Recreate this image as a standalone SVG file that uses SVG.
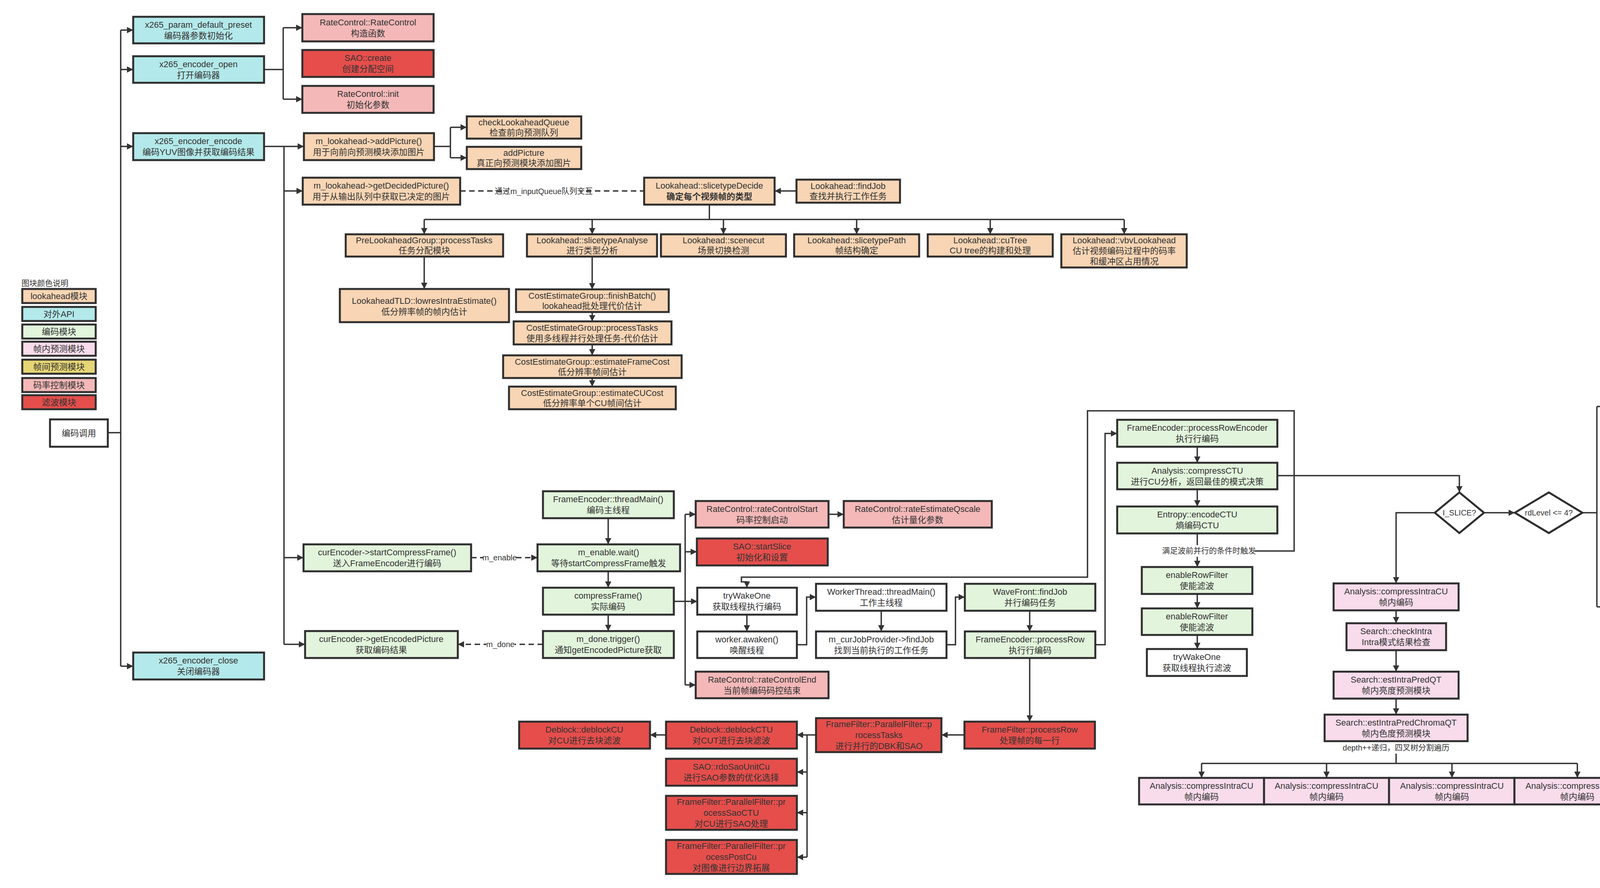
<svg xmlns="http://www.w3.org/2000/svg" width="6066" height="2274" viewBox="0 0 6066 2274">
<style>
text{font-family:"Liberation Sans","Noto Sans CJK SC",sans-serif;fill:#333;text-anchor:middle;font-size:22px}
.n rect,.n polygon{stroke:#2e2e2e;stroke-width:5}
.c rect{fill:#b3e9ea}.p rect{fill:#f8d5b4}.g rect{fill:#e2f4dc}.i rect{fill:#f8dcec}.y rect,.y polygon{fill:#e6d574}.r rect{fill:#f4b8b8}.f rect{fill:#e54e4b}.w rect,.w polygon{fill:#fff}
.k path{fill:none;stroke:#333;stroke-width:3.5}
.k .d{stroke-dasharray:14 9}
.lb{font-size:20px}
</style>
<defs>
<marker id="a" markerUnits="userSpaceOnUse" markerWidth="18" markerHeight="16" refX="16" refY="8" orient="auto"><path d="M0,0 L16,8 L0,16 z" fill="#333"/></marker>
</defs>
<rect width="6066" height="2274" fill="#fff"/>
<g id="legend">
<text x="55" y="733" style="text-anchor:start;font-size:20px">图块颜色说明</text>
<g class="n p"><rect x="57" y="740" width="188" height="36"/></g><text x="151" y="766">lookahead模块</text>
<g class="n c"><rect x="57" y="786" width="188" height="36"/></g><text x="151" y="812">对外API</text>
<g class="n g"><rect x="57" y="831" width="188" height="36"/></g><text x="151" y="857">编码模块</text>
<g class="n i"><rect x="57" y="875" width="188" height="36"/></g><text x="151" y="901">帧内预测模块</text>
<g class="n y"><rect x="57" y="921" width="188" height="36"/></g><text x="151" y="947">帧间预测模块</text>
<g class="n r"><rect x="57" y="968" width="188" height="36"/></g><text x="151" y="994">码率控制模块</text>
<g class="n f"><rect x="57" y="1012" width="188" height="36"/></g><text x="151" y="1038">滤波模块</text>
</g>
<g id="connectors" class="k">
<path d="M276,1108 H309 M309,77 V1706"/>
<path d="M309,77 H341" marker-end="url(#a)"/><path d="M309,178 H341" marker-end="url(#a)"/><path d="M309,375 H341" marker-end="url(#a)"/><path d="M309,1706 H341" marker-end="url(#a)"/>
<path d="M676,178 H725 M725,71 V254"/>
<path d="M725,71 H774" marker-end="url(#a)"/><path d="M725,254 H774" marker-end="url(#a)"/>
<path d="M676,375 H727 M727,375 V1650"/>
<path d="M727,375 H778" marker-end="url(#a)"/><path d="M727,489 H775" marker-end="url(#a)"/><path d="M727,1428 H777" marker-end="url(#a)"/><path d="M727,1650 H781" marker-end="url(#a)"/>
<path d="M1111,375 H1153 M1153,326 V404"/>
<path d="M1153,326 H1195" marker-end="url(#a)"/><path d="M1153,404 H1195" marker-end="url(#a)"/>
<path class="d" d="M1178,489 H1651"/>
<path d="M2039,489 H1983" marker-end="url(#a)"/>
<path d="M1816,524 V562 M1086,562 H2878"/>
<path d="M1086,562 V600" marker-end="url(#a)"/><path d="M1516,562 V600" marker-end="url(#a)"/><path d="M1852,562 V600" marker-end="url(#a)"/><path d="M2193,562 V600" marker-end="url(#a)"/><path d="M2535,562 V600" marker-end="url(#a)"/><path d="M2878,562 V600" marker-end="url(#a)"/>
<path d="M1086,657 V740" marker-end="url(#a)"/><path d="M1516,657 V741" marker-end="url(#a)"/><path d="M1516,799 V823" marker-end="url(#a)"/><path d="M1516,882 V910" marker-end="url(#a)"/><path d="M1516,968 V990" marker-end="url(#a)"/>
<path class="d" d="M1206,1428 H1376" marker-end="url(#a)"/>
<path d="M1557,1327 V1394" marker-end="url(#a)"/><path d="M1557,1463 V1505" marker-end="url(#a)"/><path d="M1557,1574 V1616" marker-end="url(#a)"/>
<path class="d" d="M1390,1650 H1172" marker-end="url(#a)"/>
<path d="M1725,1540 H1754 M1754,1317 V1754"/>
<path d="M1754,1317 H1781" marker-end="url(#a)"/><path d="M1754,1413 H1784" marker-end="url(#a)"/><path d="M1754,1540 H1785" marker-end="url(#a)"/><path d="M1754,1754 H1781" marker-end="url(#a)"/>
<path d="M2121,1317 H2160" marker-end="url(#a)"/>
<path d="M1912,1574 V1617" marker-end="url(#a)"/>
<path d="M2040,1651 H2065 V1529 H2089" marker-end="url(#a)"/>
<path d="M2256,1564 V1617" marker-end="url(#a)"/>
<path d="M2423,1651 H2446 V1529 H2470" marker-end="url(#a)"/>
<path d="M2636,1564 V1617" marker-end="url(#a)"/>
<path d="M2802,1651 H2829 V1110 H2860" marker-end="url(#a)"/>
<path d="M2636,1685 V1848" marker-end="url(#a)"/>
<path d="M2469,1882 H2410" marker-end="url(#a)"/>
<path d="M2089,1882 H2066 M2066,1882 V2195"/>
<path d="M2066,1882 H2040" marker-end="url(#a)"/><path d="M2066,1977 H2040" marker-end="url(#a)"/><path d="M2066,2081 H2040" marker-end="url(#a)"/><path d="M2066,2195 H2040" marker-end="url(#a)"/>
<path d="M1705,1882 H1664" marker-end="url(#a)"/>
<path d="M3065,1144 V1185" marker-end="url(#a)"/><path d="M3065,1253 V1297" marker-end="url(#a)"/><path d="M3065,1366 V1452" marker-end="url(#a)"/><path d="M3065,1521 V1558" marker-end="url(#a)"/><path d="M3065,1626 V1662" marker-end="url(#a)"/>
<path d="M3212,1411 H3313 V1052 H2784 V1478 H1898 V1490 H1912 V1505" marker-end="url(#a)"/>
<path d="M3270,1218 H3736 V1261" marker-end="url(#a)"/>
<path d="M3799,1313 H3878" marker-end="url(#a)"/>
<path d="M3673,1313 H3574 V1494" marker-end="url(#a)"/>
<path d="M3574,1563 V1596" marker-end="url(#a)"/><path d="M3574,1665 V1720" marker-end="url(#a)"/><path d="M3574,1789 V1830" marker-end="url(#a)"/>
<path d="M3574,1930 V1955 M3076,1955 H4038"/>
<path d="M3076,1955 V1992" marker-end="url(#a)"/><path d="M3396,1955 V1992" marker-end="url(#a)"/><path d="M3717,1955 V1992" marker-end="url(#a)"/><path d="M4038,1955 V1992" marker-end="url(#a)"/>
<path d="M4051,1313 H4088 M4088,1041 V1554"/>
<path d="M4088,1041 H4124" marker-end="url(#a)"/><path d="M4088,1554 H4124" marker-end="url(#a)"/>
<path d="M4506,1041 H4588" marker-end="url(#a)"/>
<path d="M4550,491 V1874"/>
<path d="M4550,491 H4595" marker-end="url(#a)"/><path d="M4550,798 H4819" marker-end="url(#a)"/>
<path d="M4550,1260 H4820" marker-end="url(#a)"/><path d="M4550,1337 H4820" marker-end="url(#a)"/><path d="M4550,1413 H4820" marker-end="url(#a)"/><path d="M4550,1487 H4820" marker-end="url(#a)"/><path d="M4550,1563 H4820" marker-end="url(#a)"/><path d="M4550,1641 H4820" marker-end="url(#a)"/><path d="M4550,1718 H4820" marker-end="url(#a)"/><path d="M4550,1797 H4820" marker-end="url(#a)"/><path d="M4550,1874 H4820" marker-end="url(#a)"/>
<path d="M4750,1041 H4786 M4786,927 V1157"/>
<path d="M4786,927 H4818" marker-end="url(#a)"/><path d="M4786,1003 H4818" marker-end="url(#a)"/><path d="M4786,1081 H4818" marker-end="url(#a)"/><path d="M4786,1157 H4818" marker-end="url(#a)"/>
<path d="M4975,491 H5005 M5005,372 V656"/>
<path d="M5005,372 H5035" marker-end="url(#a)"/><path d="M5005,467 H5035" marker-end="url(#a)"/><path d="M5005,558 H5035" marker-end="url(#a)"/><path d="M5005,656 H5035" marker-end="url(#a)"/>
<path d="M5202,1260 H5254" marker-end="url(#a)"/><path d="M5571,1260 H5623" marker-end="url(#a)"/>
</g>
<g id="labels" class="lb">
<rect x="1300" y="474" width="184" height="30" fill="#fff"/><text x="1392" y="497" class="lb">通过m_inputQueue队列交互</text>
<rect x="1237" y="1414" width="84" height="28" fill="#fff"/><text x="1279" y="1435" class="lb">m_enable</text>
<rect x="1245" y="1636" width="72" height="28" fill="#fff"/><text x="1281" y="1657" class="lb">m_done</text>
<rect x="2978" y="1396" width="234" height="30" fill="#fff"/><text x="3095" y="1418" class="lb">满足波前并行的条件时触发</text>
<text x="3574" y="1922" class="lb">depth++递归，四叉树分割遍历</text>
</g>
<g id="n_call" class="n w"><rect x="128" y="1074" width="148" height="70"/><text x="202" y="1117">编码调用</text></g>
<g id="n_param" class="n c"><rect x="341" y="43" width="335" height="68"/><text x="508" y="71">x265_param_default_preset</text><text x="508" y="99">编码器参数初始化</text></g>
<g id="n_open" class="n c"><rect x="341" y="144" width="335" height="68"/><text x="508" y="172">x265_encoder_open</text><text x="508" y="200">打开编码器</text></g>
<g id="n_encode" class="n c"><rect x="341" y="341" width="335" height="69"/><text x="508" y="369">x265_encoder_encode</text><text x="508" y="397">编码YUV图像并获取编码结果</text></g>
<g id="n_close" class="n c"><rect x="341" y="1671" width="335" height="69"/><text x="508" y="1699">x265_encoder_close</text><text x="508" y="1727">关闭编码器</text></g>
<g id="n_rc" class="n r"><rect x="774" y="36" width="336" height="70"/><text x="942" y="65">RateControl::RateControl</text><text x="942" y="93">构造函数</text></g>
<g id="n_saoc" class="n f"><rect x="774" y="128" width="336" height="69"/><text x="942" y="156">SAO::create</text><text x="942" y="184">创建分配空间</text></g>
<g id="n_rcinit" class="n r"><rect x="774" y="220" width="336" height="69"/><text x="942" y="248">RateControl::init</text><text x="942" y="276">初始化参数</text></g>
<g id="n_addpic" class="n p"><rect x="778" y="341" width="333" height="69"/><text x="944" y="369">m_lookahead-&gt;addPicture()</text><text x="944" y="397">用于向前向预测模块添加图片</text></g>
<g id="n_chk" class="n p"><rect x="1195" y="298" width="293" height="57"/><text x="1341" y="321">checkLookaheadQueue</text><text x="1341" y="347">检查前向预测队列</text></g>
<g id="n_add2" class="n p"><rect x="1195" y="376" width="293" height="57"/><text x="1341" y="399">addPicture</text><text x="1341" y="425">真正向预测模块添加图片</text></g>
<g id="n_getdec" class="n p"><rect x="775" y="455" width="403" height="69"/><text x="976" y="483">m_lookahead-&gt;getDecidedPicture()</text><text x="976" y="511">用于从输出队列中获取已决定的图片</text></g>
<g id="n_decide" class="n p"><rect x="1649" y="455" width="334" height="69"/><text x="1816" y="483">Lookahead::slicetypeDecide</text><text x="1816" y="511" font-weight="bold">确定每个视频帧的类型</text></g>
<g id="n_findjob" class="n p"><rect x="2039" y="460" width="265" height="59"/><text x="2171" y="484">Lookahead::findJob</text><text x="2171" y="510">查找并执行工作任务</text></g>
<g id="n_pre" class="n p"><rect x="885" y="600" width="403" height="57"/><text x="1086" y="623">PreLookaheadGroup::processTasks</text><text x="1086" y="649">任务分配模块</text></g>
<g id="n_ana" class="n p"><rect x="1349" y="600" width="333" height="57"/><text x="1516" y="623">Lookahead::slicetypeAnalyse</text><text x="1516" y="649">进行类型分析</text></g>
<g id="n_scn" class="n p"><rect x="1692" y="600" width="320" height="57"/><text x="1852" y="623">Lookahead::scenecut</text><text x="1852" y="649">场景切换检测</text></g>
<g id="n_path" class="n p"><rect x="2033" y="600" width="320" height="57"/><text x="2193" y="623">Lookahead::slicetypePath</text><text x="2193" y="649">帧结构确定</text></g>
<g id="n_cutree" class="n p"><rect x="2375" y="600" width="320" height="57"/><text x="2535" y="623">Lookahead::cuTree</text><text x="2535" y="649">CU tree的构建和处理</text></g>
<g id="n_vbv" class="n p"><rect x="2717" y="600" width="321" height="85"/><text x="2878" y="623">Lookahead::vbvLookahead</text><text x="2878" y="650">估计视频编码过程中的码率</text><text x="2878" y="677">和缓冲区占用情况</text></g>
<g id="n_tld" class="n p"><rect x="870" y="740" width="433" height="85"/><text x="1086" y="778">LookaheadTLD::lowresIntraEstimate()</text><text x="1086" y="806">低分辨率帧的帧内估计</text></g>
<g id="n_ce1" class="n p"><rect x="1321" y="741" width="391" height="58"/><text x="1516" y="765">CostEstimateGroup::finishBatch()</text><text x="1516" y="791">lookahead批处理代价估计</text></g>
<g id="n_ce2" class="n p"><rect x="1315" y="823" width="404" height="59"/><text x="1516" y="847">CostEstimateGroup::processTasks</text><text x="1516" y="874">使用多线程并行处理任务-代价估计</text></g>
<g id="n_ce3" class="n p"><rect x="1288" y="910" width="457" height="58"/><text x="1516" y="934">CostEstimateGroup::estimateFrameCost</text><text x="1516" y="960">低分辨率帧间估计</text></g>
<g id="n_ce4" class="n p"><rect x="1303" y="990" width="427" height="58"/><text x="1516" y="1014">CostEstimateGroup::estimateCUCost</text><text x="1516" y="1040">低分辨率单个CU帧间估计</text></g>
<g id="n_tm" class="n g"><rect x="1390" y="1258" width="335" height="69"/><text x="1557" y="1286">FrameEncoder::threadMain()</text><text x="1557" y="1314">编码主线程</text></g>
<g id="n_scf" class="n g"><rect x="777" y="1394" width="429" height="69"/><text x="991" y="1422">curEncoder-&gt;startCompressFrame()</text><text x="991" y="1450">送入FrameEncoder进行编码</text></g>
<g id="n_ew" class="n g"><rect x="1376" y="1394" width="365" height="69"/><text x="1558" y="1422">m_enable.wait()</text><text x="1558" y="1450">等待startCompressFrame触发</text></g>
<g id="n_cf" class="n g"><rect x="1390" y="1505" width="335" height="69"/><text x="1557" y="1533">compressFrame()</text><text x="1557" y="1561">实际编码</text></g>
<g id="n_dt" class="n g"><rect x="1390" y="1616" width="335" height="69"/><text x="1557" y="1644">m_done.trigger()</text><text x="1557" y="1672">通知getEncodedPicture获取</text></g>
<g id="n_gep" class="n g"><rect x="781" y="1616" width="391" height="69"/><text x="976" y="1644">curEncoder-&gt;getEncodedPicture</text><text x="976" y="1672">获取编码结果</text></g>
<g id="n_rcs" class="n r"><rect x="1781" y="1283" width="340" height="68"/><text x="1951" y="1311">RateControl::rateControlStart</text><text x="1951" y="1339">码率控制启动</text></g>
<g id="n_req" class="n r"><rect x="2160" y="1283" width="379" height="68"/><text x="2349" y="1311">RateControl::rateEstimateQscale</text><text x="2349" y="1339">估计量化参数</text></g>
<g id="n_ss" class="n f"><rect x="1784" y="1379" width="335" height="69"/><text x="1951" y="1407">SAO::startSlice</text><text x="1951" y="1435">初始化和设置</text></g>
<g id="n_tw1" class="n w"><rect x="1785" y="1505" width="255" height="69"/><text x="1912" y="1533">tryWakeOne</text><text x="1912" y="1561">获取线程执行编码</text></g>
<g id="n_wa" class="n w"><rect x="1785" y="1617" width="255" height="68"/><text x="1912" y="1645">worker.awaken()</text><text x="1912" y="1673">唤醒线程</text></g>
<g id="n_wt" class="n w"><rect x="2089" y="1495" width="334" height="69"/><text x="2256" y="1523">WorkerThread::threadMain()</text><text x="2256" y="1551">工作主线程</text></g>
<g id="n_cjp" class="n w"><rect x="2089" y="1617" width="334" height="68"/><text x="2256" y="1645">m_curJobProvider-&gt;findJob</text><text x="2256" y="1673">找到当前执行的工作任务</text></g>
<g id="n_wf" class="n g"><rect x="2470" y="1495" width="334" height="69"/><text x="2637" y="1523">WaveFront::findJob</text><text x="2637" y="1551">并行编码任务</text></g>
<g id="n_pr" class="n g"><rect x="2470" y="1617" width="334" height="68"/><text x="2637" y="1645">FrameEncoder::processRow</text><text x="2637" y="1673">执行行编码</text></g>
<g id="n_rce" class="n r"><rect x="1781" y="1720" width="340" height="68"/><text x="1951" y="1748">RateControl::rateControlEnd</text><text x="1951" y="1776">当前帧编码码控结束</text></g>
<g id="n_pre2" class="n g"><rect x="2860" y="1075" width="410" height="69"/><text x="3065" y="1103">FrameEncoder::processRowEncoder</text><text x="3065" y="1131">执行行编码</text></g>
<g id="n_cc" class="n g"><rect x="2860" y="1185" width="410" height="68"/><text x="3065" y="1213">Analysis::compressCTU</text><text x="3065" y="1241">进行CU分析，返回最佳的模式决策</text></g>
<g id="n_ec" class="n g"><rect x="2860" y="1297" width="410" height="69"/><text x="3065" y="1325">Entropy::encodeCTU</text><text x="3065" y="1353">熵编码CTU</text></g>
<g id="n_erf1" class="n g"><rect x="2923" y="1452" width="283" height="69"/><text x="3064" y="1480">enableRowFilter</text><text x="3064" y="1508">使能滤波</text></g>
<g id="n_erf2" class="n g"><rect x="2923" y="1558" width="283" height="68"/><text x="3064" y="1586">enableRowFilter</text><text x="3064" y="1614">使能滤波</text></g>
<g id="n_tw2" class="n w"><rect x="2936" y="1662" width="256" height="69"/><text x="3064" y="1690">tryWakeOne</text><text x="3064" y="1718">获取线程执行滤波</text></g>
<g id="n_ffpr" class="n f"><rect x="2469" y="1848" width="334" height="69"/><text x="2636" y="1876">FrameFilter::processRow</text><text x="2636" y="1904">处理帧的每一行</text></g>
<g id="n_pft" class="n f"><rect x="2089" y="1839" width="321" height="87"/><text x="2250" y="1862">FrameFilter::ParallelFilter::p</text><text x="2250" y="1890">rocessTasks</text><text x="2250" y="1918">进行并行的DBK和SAO</text></g>
<g id="n_dctu" class="n f"><rect x="1705" y="1848" width="335" height="69"/><text x="1872" y="1876">Deblock::deblockCTU</text><text x="1872" y="1904">对CUT进行去块滤波</text></g>
<g id="n_dcu" class="n f"><rect x="1329" y="1848" width="335" height="69"/><text x="1496" y="1876">Deblock::deblockCU</text><text x="1496" y="1904">对CU进行去块滤波</text></g>
<g id="n_rdo" class="n f"><rect x="1705" y="1943" width="335" height="69"/><text x="1872" y="1971">SAO::rdoSaoUnitCu</text><text x="1872" y="1999">进行SAO参数的优化选择</text></g>
<g id="n_psc" class="n f"><rect x="1705" y="2038" width="335" height="87"/><text x="1872" y="2061">FrameFilter::ParallelFilter::pr</text><text x="1872" y="2089">ocessSaoCTU</text><text x="1872" y="2117">对CU进行SAO处理</text></g>
<g id="n_ppc" class="n f"><rect x="1705" y="2151" width="335" height="87"/><text x="1872" y="2174">FrameFilter::ParallelFilter::pr</text><text x="1872" y="2202">ocessPostCu</text><text x="1872" y="2230">对图像进行边界拓展</text></g>
<g id="n_islice" class="n w"><polygon points="3736,1261 3799,1313 3736,1365 3673,1313"/><text x="3736" y="1320" class="lb">I_SLICE?</text></g>
<g id="n_rdlevel" class="n w"><polygon points="3965,1261 4051,1313 3965,1365 3878,1313"/><text x="3965" y="1320" class="lb">rdLevel &lt;= 4?</text></g>
<g id="n_ic" class="n i"><rect x="3414" y="1494" width="320" height="69"/><text x="3574" y="1522">Analysis::compressIntraCU</text><text x="3574" y="1550">帧内编码</text></g>
<g id="n_chi" class="n i"><rect x="3447" y="1596" width="255" height="69"/><text x="3574" y="1624">Search::checkIntra</text><text x="3574" y="1652">Intra模式结果检查</text></g>
<g id="n_eqt" class="n i"><rect x="3414" y="1720" width="320" height="69"/><text x="3574" y="1748">Search::estIntraPredQT</text><text x="3574" y="1776">帧内亮度预测模块</text></g>
<g id="n_ecq" class="n i"><rect x="3391" y="1830" width="366" height="68"/><text x="3574" y="1858">Search::estIntraPredChromaQT</text><text x="3574" y="1886">帧内色度预测模块</text></g>
<g id="n_ic1" class="n i"><rect x="2916" y="1992" width="320" height="68"/><text x="3076" y="2020">Analysis::compressIntraCU</text><text x="3076" y="2048">帧内编码</text></g>
<g id="n_ic2" class="n i"><rect x="3236" y="1992" width="320" height="68"/><text x="3396" y="2020">Analysis::compressIntraCU</text><text x="3396" y="2048">帧内编码</text></g>
<g id="n_ic3" class="n i"><rect x="3556" y="1992" width="321" height="68"/><text x="3717" y="2020">Analysis::compressIntraCU</text><text x="3717" y="2048">帧内编码</text></g>
<g id="n_ic4" class="n i"><rect x="3877" y="1992" width="322" height="68"/><text x="4038" y="2020">Analysis::compressIntraCU</text><text x="4038" y="2048">帧内编码</text></g>
<g id="n_rd04" class="n y"><rect x="4124" y="1007" width="382" height="69"/><text x="4315" y="1035">Analysis::compressInterCU_rd0_4</text><text x="4315" y="1063">帧间编码</text></g>
<g id="n_rd56" class="n y"><rect x="4124" y="1520" width="382" height="68"/><text x="4315" y="1548">Analysis::compressInterCU_rd5_6</text><text x="4315" y="1576">帧间编码</text></g>
<g id="n_split" class="n y"><polygon points="4669,985 4750,1041 4669,1097 4588,1041"/><text x="4669" y="1034" class="lb">mightSplit &amp;&amp;</text><text x="4669" y="1062" class="lb">!skipRecursion</text></g>
<g id="n_cm" class="n y"><rect x="4595" y="457" width="380" height="68"/><text x="4785" y="485">checkMerge2Nx2N_rd0_4</text><text x="4785" y="513">帧间merge模式代价计算</text></g>
<g id="n_gim" class="n y"><rect x="5035" y="338" width="382" height="68"/><text x="5226" y="366">getInterMergeCandidates</text><text x="5226" y="394">获取merge模式候选列表</text></g>
<g id="n_mc" class="n y"><rect x="5035" y="433" width="382" height="68"/><text x="5226" y="461">motionCompensation</text><text x="5226" y="489">运动补偿</text></g>
<g id="n_ercs" class="n y"><rect x="5035" y="524" width="382" height="68"/><text x="5226" y="552">encodeResAndCalcRdSkipCU</text><text x="5226" y="580">skip模式计算率失真代价</text></g>
<g id="n_erci" class="n y"><rect x="5035" y="621" width="426" height="69"/><text x="5248" y="649">Search::encodeResAndCalcRdInterCU</text><text x="5248" y="677">计算率失真代价代价（merge模式）</text></g>
<g id="n_cx" class="n y"><rect x="4819" y="764" width="410" height="68"/><text x="5024" y="792">Analysis::complexityCheckCU</text><text x="5024" y="820">复杂度分析，用于判定是否跳过分割</text></g>
<g id="n_sub1" class="n y"><rect x="4819" y="893" width="382" height="68"/><text x="5010" y="921">Analysis::compressInterCU_rd0_4</text><text x="5010" y="949">子块递归帧间编码</text></g>
<g id="n_sub2" class="n y"><rect x="4819" y="969" width="382" height="68"/><text x="5010" y="997">Analysis::compressInterCU_rd0_4</text><text x="5010" y="1025">子块递归帧间编码</text></g>
<g id="n_sub3" class="n y"><rect x="4819" y="1047" width="382" height="68"/><text x="5010" y="1075">Analysis::compressInterCU_rd0_4</text><text x="5010" y="1103">子块递归帧间编码</text></g>
<g id="n_sub4" class="n y"><rect x="4819" y="1123" width="382" height="68"/><text x="5010" y="1151">Analysis::compressInterCU_rd0_4</text><text x="5010" y="1179">子块递归帧间编码</text></g>
<g id="n_ci1" class="n y"><rect x="4820" y="1226" width="382" height="68"/><text x="5011" y="1254">Analysis::checkInter_rd0_4</text><text x="5011" y="1282">2Nx2N帧间预测</text></g>
<g id="n_bi" class="n y"><rect x="4820" y="1303" width="382" height="68"/><text x="5011" y="1331">Analysis::checkBidir2Nx2N</text><text x="5011" y="1359">2Nx2N双向帧间预测</text></g>
<g id="n_ci2" class="n y"><rect x="4820" y="1379" width="382" height="68"/><text x="5011" y="1407">Analysis::checkInter_rd0_4</text><text x="5011" y="1435">2NxN帧间预测</text></g>
<g id="n_ci3" class="n y"><rect x="4820" y="1453" width="382" height="68"/><text x="5011" y="1481">Analysis::checkInter_rd0_4</text><text x="5011" y="1509">Nx2N帧间预测</text></g>
<g id="n_ci4" class="n y"><rect x="4820" y="1529" width="382" height="68"/><text x="5011" y="1557">Analysis::checkInter_rd0_4</text><text x="5011" y="1585">2NxnD帧间预测</text></g>
<g id="n_ci5" class="n y"><rect x="4820" y="1607" width="382" height="68"/><text x="5011" y="1635">Analysis::checkInter_rd0_4</text><text x="5011" y="1663">2NxnU帧间预测</text></g>
<g id="n_ci6" class="n y"><rect x="4820" y="1684" width="382" height="68"/><text x="5011" y="1712">Analysis::checkInter_rd0_4</text><text x="5011" y="1740">nRx2N帧间预测</text></g>
<g id="n_ci7" class="n y"><rect x="4820" y="1763" width="382" height="68"/><text x="5011" y="1791">Analysis::checkInter_rd0_4</text><text x="5011" y="1819">nLx2N帧间预测</text></g>
<g id="n_cii" class="n y"><rect x="4820" y="1840" width="382" height="68"/><text x="5011" y="1868">checkIntraInInter</text><text x="5011" y="1896">帧间的帧内预测</text></g>
<g id="n_pis" class="n y"><rect x="5254" y="1226" width="317" height="68"/><text x="5412" y="1254">predInterSearch</text><text x="5412" y="1282">帧间预测搜索</text></g>
<g id="n_me" class="n y"><rect x="5623" y="1226" width="408" height="68"/><text x="5827" y="1254">MotionEstimate::motionEstimate</text><text x="5827" y="1282">帧间运动估计</text></g>
</svg>
